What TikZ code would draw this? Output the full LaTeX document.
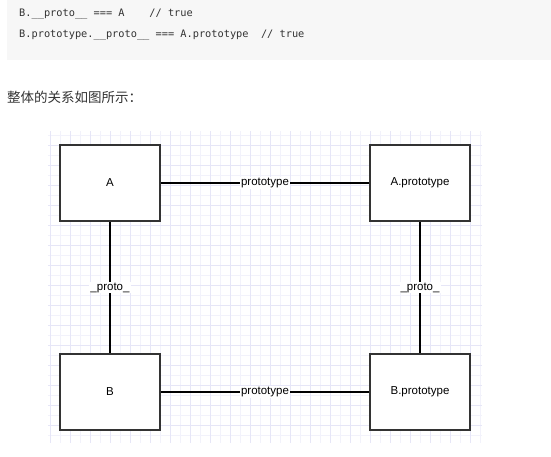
\documentclass[tikz,border=0pt]{standalone}
\usepackage{fontspec}
\setmainfont{Liberation Sans}
\setmonofont{DejaVu Sans Mono}
\newfontfamily\cjk{Noto Sans CJK SC}
\usepackage{xcolor}
\definecolor{codebg}{HTML}{F7F7F7}
\definecolor{codefg}{HTML}{333333}
\definecolor{gridmajor}{HTML}{E6E6F7}
\definecolor{gridminor}{HTML}{F2F2FB}
\definecolor{edge}{HTML}{333333}

\begin{document}
\begin{tikzpicture}[x=1pt, y=-1pt,
    objbox/.style={draw=edge, line width=2pt, fill=white, minimum width=100pt, minimum height=76pt,
      inner sep=0pt, font=\fontsize{11.5}{13}\selectfont},
    link/.style={line width=2pt, black},
    linklabel/.style={fill=white, inner sep=1pt, font=\fontsize{11.5}{13}\selectfont},
    codeline/.style={anchor=west, inner sep=0pt, text=codefg, font=\ttfamily\fontsize{10.3}{12}\selectfont}]
      \useasboundingbox (0,0) rectangle (551,457);
      % Code block at the top
      \fill[codebg] (7,0) rectangle (551,60);
      \node[codeline] (code1) at (19,14) {B.\_\_proto\_\_ === A\ \ \ \ // true};
      \node[codeline] (code2) at (19,35) {B.prototype.\_\_proto\_\_ === A.prototype\ \ // true};
      % Caption line
      \node[anchor=west, inner sep=0pt, text=codefg, font=\cjk\fontsize{13.5}{16}\selectfont] (caption) at (7,97) {整体的关系如图所示：};
      % Background grid
      \begin{scope}
        \clip (48,131) rectangle (482,443);
        \foreach \x in {60,80,...,480} \draw[gridminor, line width=0.5pt] (\x,131) -- (\x,443);
        \foreach \y in {135,155,...,435} \draw[gridminor, line width=0.5pt] (48,\y) -- (482,\y);
        \foreach \x in {50,70,...,470} \draw[gridmajor, line width=0.5pt] (\x,131) -- (\x,443);
        \foreach \y in {145,165,...,425} \draw[gridmajor, line width=0.5pt] (48,\y) -- (482,\y);
      \end{scope}
      % Boxes
      \node[objbox] (A) at (110,183) {A};
      \node[objbox] (Aproto) at (420,183) {A.prototype};
      \node[objbox] (B) at (110,392) {B};
      \node[objbox] (Bproto) at (420,392) {B.prototype};
      % Connectors
      \draw[link] (A) -- node[linklabel] {prototype} (Aproto);
      \draw[link] (B) -- node[linklabel] {prototype} (Bproto);
      \draw[link] (A) -- node[linklabel] {\_proto\_} (B);
      \draw[link] (Aproto) -- node[linklabel] {\_proto\_} (Bproto);
    \end{tikzpicture}
\end{document}
